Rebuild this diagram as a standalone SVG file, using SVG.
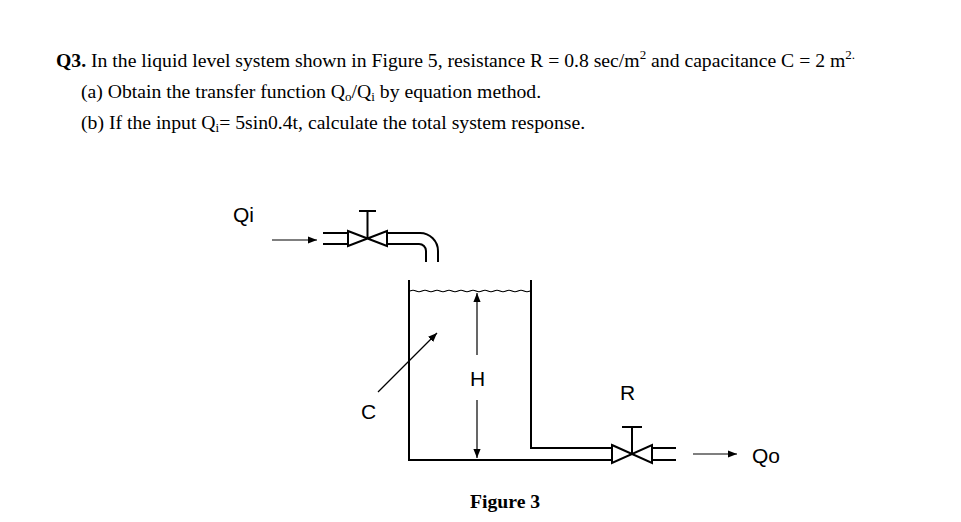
<svg xmlns="http://www.w3.org/2000/svg" width="961" height="522" viewBox="0 0 961 522">
<defs>
<marker id="ah" viewBox="0 0 10 10" refX="10" refY="5" markerWidth="9" markerHeight="9" markerUnits="userSpaceOnUse" orient="auto-start-reverse"><path d="M0,1 L10,5 L0,9 Z" fill="#000"/></marker>
</defs>
<style>
.t{font-family:"Liberation Serif",serif;font-size:19.7px;fill:#000}
.s{font-family:"Liberation Sans",sans-serif;font-size:21px;fill:#000}
.ln{stroke:#000;stroke-width:2;fill:none}
.th{stroke:#000;stroke-width:1.2;fill:none}
</style>
<rect width="961" height="522" fill="#fff"/>
<g id="text">
<text class="t" x="56" y="67"><tspan font-weight="bold">Q3.</tspan> In the liquid level system shown in Figure 5, resistance R = 0.8 sec/m<tspan font-size="13" dy="-8">2</tspan><tspan dy="8"> and capacitance C = 2 m</tspan><tspan font-size="13" dy="-8">2.</tspan></text>
<text class="t" x="81" y="98">(a) Obtain the transfer function Q<tspan font-size="13" dy="3">o</tspan><tspan dy="-3">/Q</tspan><tspan font-size="13" dy="3">i</tspan><tspan dy="-3"> by equation method.</tspan></text>
<text class="t" x="81" y="129">(b) If the input Q<tspan font-size="13" dy="3">i</tspan><tspan dy="-3">= 5sin0.4t, calculate the total system response.</tspan></text>
<text class="t" x="470" y="508" font-weight="bold">Figure 3</text>
</g>
<g id="inlet">
<text class="s" x="233" y="222">Qi</text>
<line class="th" x1="272" y1="240" x2="317" y2="240" marker-end="url(#ah)"/>
<path class="ln" d="M323,233 H348 M323,244 H348"/>
<path class="ln" d="M348,231 L387,246 L387,231 L348,246 Z"/>
<path class="ln" d="M367.5,238.5 V211 M359,211 H376"/>
<path class="ln" d="M387,233 H420 A18,18 0 0 1 438,251 V262 M387,244 H419 A7,7 0 0 1 426,251 V262"/>
</g>
<g id="tank">
<path class="ln" d="M409,280 V460 H612 M531,280 V448 H612"/>
<path class="th" d="M410,291 q3,-1.5 6,0 t6,0 t6,0 t6,0 t6,0 t6,0 t6,0 t6,0 t6,0 t6,0 t6,0 t6,0 t6,0 t6,0 t6,0 t6,0 t6,0 t6,0 t6,0 t6,0"/>
<line class="th" x1="477" y1="355" x2="477" y2="293" marker-end="url(#ah)"/>
<line class="th" x1="477" y1="400" x2="477" y2="458" marker-end="url(#ah)"/>
<text class="s" x="470" y="386">H</text>
<line class="th" x1="378" y1="392" x2="437" y2="333" marker-end="url(#ah)"/>
<text class="s" x="361" y="419">C</text>
</g>
<g id="outlet">
<path class="ln" d="M612,445 L652,463 L652,445 L612,463 Z"/>
<path class="ln" d="M632,454 V427 M622,427 H642"/>
<path class="ln" d="M652,448 H676 M652,460 H676"/>
<text class="s" x="620" y="400">R</text>
<line class="th" x1="693" y1="454" x2="737" y2="454" marker-end="url(#ah)"/>
<text class="s" x="752" y="463">Qo</text>
</g>
</svg>
